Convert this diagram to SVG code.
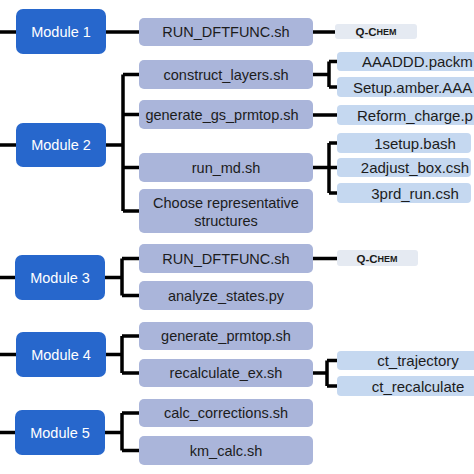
<svg xmlns="http://www.w3.org/2000/svg" width="474" height="474" viewBox="0 0 474 474">
<style>
.mod rect{fill:#2767cc;}
.mod text{fill:#ffffff;font-family:"Liberation Sans",Arial,sans-serif;font-size:14.5px;text-anchor:middle;dominant-baseline:central;}
.scr rect{fill:#aab5da;}
.scr text{fill:#1c1c1c;font-family:"Liberation Sans",Arial,sans-serif;font-size:14.5px;text-anchor:middle;dominant-baseline:central;}
.sub rect{fill:#c5d8f0;}
.sub text{fill:#1c1c1c;font-family:"Liberation Sans",Arial,sans-serif;font-size:15px;dominant-baseline:central;}
.qc rect{fill:#e5eaf2;}
.qc text{fill:#1a1a1a;font-family:"Liberation Sans",Arial,sans-serif;font-weight:bold;font-size:11.5px;text-anchor:middle;dominant-baseline:central;}
#connectors path{fill:none;stroke:#000;stroke-width:3.5;}
</style>
<rect width="474" height="474" fill="#ffffff"/>
<g id="connectors">
<path d="M0 32H16M106 32H139M313 32H335"/>
<path d="M0 145H16M106 145H123M123 74.5V211M123 74.5H139M123 114.5H139M123 167.5H139M123 211H139"/>
<path d="M313 74.5H329M329 61.5V87M329 61.5H337M329 87H337M313 115H337"/>
<path d="M313 167.5H329M329 143V193M329 143H337M329 167.5H337M329 193H337"/>
<path d="M0 277.5H15M105 277.5H122M122 258.5V295.5M122 258.5H139M122 295.5H139M313 258.5H337"/>
<path d="M0 354.5H16M106 354.5H122M122 336V373M122 336H139M122 373H139"/>
<path d="M313 373H327M327 360.5V386M327 360.5H337M327 386H337"/>
<path d="M0 432.5H15M105 432.5H122M122 413V450.5M122 413H139M122 450.5H139"/>
</g>
<g id="module1" class="mod"><rect x="16" y="9" width="90" height="45" rx="7"/><text x="61" y="32">Module 1</text></g>
<g id="module2" class="mod"><rect x="16" y="123" width="90" height="44" rx="7"/><text x="61" y="145">Module 2</text></g>
<g id="module3" class="mod"><rect x="15" y="255" width="90" height="45" rx="7"/><text x="60" y="277.5">Module 3</text></g>
<g id="module4" class="mod"><rect x="16" y="332" width="90" height="45" rx="7"/><text x="61" y="354.5">Module 4</text></g>
<g id="module5" class="mod"><rect x="15" y="410" width="90" height="45" rx="7"/><text x="60" y="432.5">Module 5</text></g>

<g id="run1" class="scr"><rect x="139" y="18" width="174" height="28" rx="5"/><text x="226" y="32">RUN_DFTFUNC.sh</text></g>
<g id="construct" class="scr"><rect x="139" y="60" width="174" height="29" rx="5"/><text x="226" y="74.5">construct_layers.sh</text></g>
<g id="gen_gs" class="scr"><rect x="139" y="100" width="174" height="29" rx="5"/><text x="222" y="114.5">generate_gs_prmtop.sh</text></g>
<g id="run_md" class="scr"><rect x="139" y="153" width="174" height="29" rx="5"/><text x="226" y="167.5">run_md.sh</text></g>
<g id="choose" class="scr"><rect x="139" y="189" width="174" height="44" rx="5"/><text x="226" y="203">Choose representative</text><text x="226" y="221">structures</text></g>
<g id="run2" class="scr"><rect x="139" y="244" width="174" height="29" rx="5"/><text x="226" y="258.5">RUN_DFTFUNC.sh</text></g>
<g id="analyze" class="scr"><rect x="139" y="281" width="174" height="29" rx="5"/><text x="226" y="295.5">analyze_states.py</text></g>
<g id="gen_prmtop" class="scr"><rect x="139" y="322" width="174" height="28" rx="5"/><text x="226" y="336">generate_prmtop.sh</text></g>
<g id="recalc_ex" class="scr"><rect x="139" y="359" width="174" height="28" rx="5"/><text x="226" y="373">recalculate_ex.sh</text></g>
<g id="calc_corr" class="scr"><rect x="139" y="399" width="174" height="28" rx="5"/><text x="226" y="413">calc_corrections.sh</text></g>
<g id="km_calc" class="scr"><rect x="139" y="436" width="174" height="29" rx="5"/><text x="226" y="450.5">km_calc.sh</text></g>

<g id="qchem1" class="qc"><rect x="335" y="24" width="82" height="15" rx="3"/><text x="376" y="32">Q-C<tspan font-size="9">HEM</tspan></text></g>
<g id="qchem2" class="qc"><rect x="337" y="250" width="81" height="16" rx="3"/><text x="377" y="258.5">Q-C<tspan font-size="9">HEM</tspan></text></g>

<g id="aaaddd" class="sub"><rect x="337" y="52" width="160" height="19" rx="4"/><text x="362" y="61.5">AAADDD.packm</text></g>
<g id="setup_amber" class="sub"><rect x="337" y="77" width="160" height="20" rx="4"/><text x="353" y="87">Setup.amber.AAA</text></g>
<g id="reform" class="sub"><rect x="337" y="105" width="160" height="20" rx="4"/><text x="357" y="115">Reform_charge.p</text></g>
<g id="setup1" class="sub"><rect x="337" y="133" width="134" height="20" rx="4"/><text x="415" y="143" text-anchor="middle">1setup.bash</text></g>
<g id="adjust2" class="sub"><rect x="337" y="158" width="134" height="19" rx="4"/><text x="415" y="167.5" text-anchor="middle">2adjust_box.csh</text></g>
<g id="prd3" class="sub"><rect x="337" y="183" width="134" height="20" rx="4"/><text x="415" y="193" text-anchor="middle">3prd_run.csh</text></g>
<g id="ct_traj" class="sub"><rect x="337" y="351" width="160" height="19" rx="4"/><text x="418" y="360.5" text-anchor="middle">ct_trajectory</text></g>
<g id="ct_recalc" class="sub"><rect x="337" y="376" width="160" height="20" rx="4"/><text x="418" y="386" text-anchor="middle">ct_recalculate</text></g>
</svg>
